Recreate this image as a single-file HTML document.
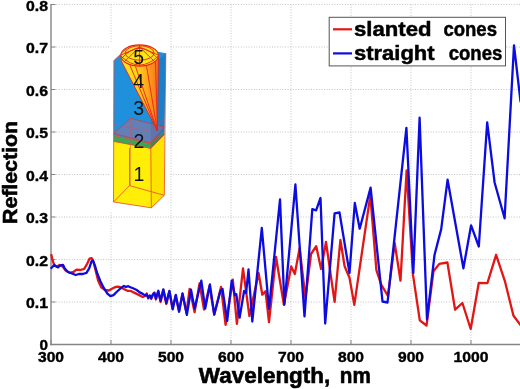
<!DOCTYPE html>
<html><head><meta charset="utf-8"><title>Reflection vs Wavelength</title>
<style>
html,body{margin:0;padding:0;background:#fff;}
svg{display:block;font-family:"Liberation Sans",sans-serif;}
.b{font-weight:bold;}
</style></head><body>
<svg width="520" height="389" viewBox="0 0 520 389">
<rect width="520" height="389" fill="#fff"/>
<g stroke="#c4c4c4" stroke-width="1" stroke-dasharray="1 1.6" fill="none">
<line x1="111.0" y1="4.5" x2="111.0" y2="344.5"/>
<line x1="171.0" y1="4.5" x2="171.0" y2="344.5"/>
<line x1="231.0" y1="4.5" x2="231.0" y2="344.5"/>
<line x1="291.0" y1="4.5" x2="291.0" y2="344.5"/>
<line x1="351.0" y1="4.5" x2="351.0" y2="344.5"/>
<line x1="411.0" y1="4.5" x2="411.0" y2="344.5"/>
<line x1="471.0" y1="4.5" x2="471.0" y2="344.5"/>
<line x1="51" y1="302.0" x2="520" y2="302.0"/>
<line x1="51" y1="259.5" x2="520" y2="259.5"/>
<line x1="51" y1="217.0" x2="520" y2="217.0"/>
<line x1="51" y1="174.5" x2="520" y2="174.5"/>
<line x1="51" y1="132.0" x2="520" y2="132.0"/>
<line x1="51" y1="89.5" x2="520" y2="89.5"/>
<line x1="51" y1="47.0" x2="520" y2="47.0"/>
<line x1="51" y1="4.5" x2="520" y2="4.5"/>
</g>
<!-- inset -->
<g id="inset">
<rect x="110" y="42" width="60" height="169" fill="#fff"/>
<!-- yellow base -->
<polygon points="113.6,141 150.8,148 164.3,134.5 164.3,195.3 151.3,207.8 113.5,202" fill="#ffee08"/>
<polygon points="150.8,148 164.3,134.5 164.3,195.3 151.3,207.8" fill="#fde400"/>
<!-- green layer -->
<polygon points="113.6,135.4 150.8,143.2 164.3,131.6 164.3,134.7 150.8,148.4 113.6,141.4" fill="#3aa657"/>
<polygon points="150.8,143.2 164.3,131.6 164.3,134.7 150.8,148.4" fill="#2f8f49"/>
<!-- blue block -->
<polygon points="113.9,60.6 129.1,46.2 165.8,53.2 164.3,131.8 150.8,143.4 113.6,135.6" fill="#1f90dc"/>
<polygon points="150.7,67.6 165.8,53.2 164.3,131.8 150.8,143.4" fill="#1b7fc9"/>
<!-- pink inner wireframe -->
<polygon points="113.6,133.5 130.5,118.3 164.3,127 150.8,143" fill="#e06070" fill-opacity="0.35" stroke="#e03030" stroke-width="0.7"/>
<g stroke="#d85060" stroke-width="0.6" fill="none" opacity="0.8">
<line x1="113.6" y1="124.5" x2="150.8" y2="131.5"/><line x1="150.8" y1="131.5" x2="164.3" y2="118.5"/>
<line x1="130.5" y1="118.3" x2="130.5" y2="186"/>
</g>
<!-- cone -->
<defs>
<linearGradient id="cg" x1="0" y1="0" x2="1" y2="0">
<stop offset="0" stop-color="#ffe81a"/><stop offset="0.45" stop-color="#ffd21a"/><stop offset="0.7" stop-color="#ffa81a"/><stop offset="1" stop-color="#f8701a"/>
</linearGradient>
</defs>
<polygon points="120.8,60 157.4,130.8 158.4,57" fill="url(#cg)"/>
<g stroke="#e8231c" stroke-width="0.9" fill="none">
<line x1="120.8" y1="60" x2="157.4" y2="130.8"/>
<line x1="130" y1="65.5" x2="157.4" y2="130.8"/>
<line x1="135.5" y1="66.5" x2="157.4" y2="130.8"/>
<line x1="146.5" y1="65.8" x2="157.4" y2="130.8"/>
<line x1="155.5" y1="61.5" x2="157.4" y2="130.8"/>
<line x1="158.4" y1="57" x2="157.4" y2="130.8"/>
</g>
<!-- dome -->
<ellipse cx="139.6" cy="55.5" rx="18.8" ry="10.6" fill="#ffe414" stroke="#e8231c" stroke-width="1.1"/>
<g stroke="#e8231c" stroke-width="0.9" fill="none">
<ellipse cx="139.6" cy="53" rx="14.5" ry="7.2"/>
<path d="M120.8,56 Q139.6,74 158.4,56"/>
<path d="M121.5,58.5 Q139.6,38 157.8,58.5"/>
<line x1="139.6" y1="45" x2="139.6" y2="66"/>
<line x1="139.6" y1="47" x2="124" y2="62"/>
<line x1="139.6" y1="47" x2="155" y2="62"/>
<line x1="139.6" y1="47" x2="121" y2="55"/>
<line x1="139.6" y1="47" x2="158.2" y2="55"/>
</g>
<!-- box wireframe -->
<g stroke="#e8452a" stroke-width="0.8" fill="none">
<polyline points="113.9,60.6 113.5,202 151.3,207.8 164.3,195.3 165.8,53.2"/>
<line x1="150.8" y1="143.4" x2="151.3" y2="207.8"/>
<polyline points="113.5,202 129.5,185.6 164.3,195.3"/>
<line x1="129.5" y1="148" x2="129.5" y2="185.6"/>
<polyline points="113.6,141.4 150.8,148.4 164.3,134.7"/>
<polyline points="113.6,135.6 150.8,143.4 164.3,131.8"/>
<line x1="113.9" y1="60.6" x2="129.1" y2="46.2"/>
</g>
<g font-size="19.5" fill="#111" text-anchor="middle">
<text x="138.6" y="64">5</text>
<text x="138.6" y="88">4</text>
<text x="138.6" y="115.2">3</text>
<text x="139" y="148.2">2</text>
<text x="139" y="180.8">1</text>
</g>
</g>
<!-- axes -->
<g stroke="#858585" stroke-width="1.4" fill="none">
<line x1="51" y1="4.0" x2="51" y2="345.2"/>
<line x1="50.3" y1="344.5" x2="520" y2="344.5"/>
</g>
<g stroke="#858585" stroke-width="1" fill="none">
<line x1="51.0" y1="344.5" x2="51.0" y2="340.0"/>
<line x1="111.0" y1="344.5" x2="111.0" y2="340.0"/>
<line x1="171.0" y1="344.5" x2="171.0" y2="340.0"/>
<line x1="231.0" y1="344.5" x2="231.0" y2="340.0"/>
<line x1="291.0" y1="344.5" x2="291.0" y2="340.0"/>
<line x1="351.0" y1="344.5" x2="351.0" y2="340.0"/>
<line x1="411.0" y1="344.5" x2="411.0" y2="340.0"/>
<line x1="471.0" y1="344.5" x2="471.0" y2="340.0"/>
<line x1="51" y1="344.5" x2="55.5" y2="344.5"/>
<line x1="51" y1="302.0" x2="55.5" y2="302.0"/>
<line x1="51" y1="259.5" x2="55.5" y2="259.5"/>
<line x1="51" y1="217.0" x2="55.5" y2="217.0"/>
<line x1="51" y1="174.5" x2="55.5" y2="174.5"/>
<line x1="51" y1="132.0" x2="55.5" y2="132.0"/>
<line x1="51" y1="89.5" x2="55.5" y2="89.5"/>
<line x1="51" y1="47.0" x2="55.5" y2="47.0"/>
<line x1="51" y1="4.5" x2="55.5" y2="4.5"/>
</g>
<!-- data -->
<polyline fill="none" stroke="#e31616" stroke-width="2.3" stroke-linejoin="round" stroke-linecap="round" points="51.4,255 52.6,260.4 54.2,265 56.5,266.6 59.6,265 62.6,266.6 65.7,270.4 69.6,272.8 73.4,272 76.5,269.7 80.4,270 84.2,268.9 87.3,263.5 89.6,258.6 91.6,258.1 93.5,262 95.8,271.2 98.1,280.5 101.2,287.4 105,290 108.9,290.5 112.8,288.2 115.8,286.9 118.2,286.7 121.3,287.7 124.3,289.3 127.4,290.8 130.5,290.8 133.6,292.4 136.7,293.9 139.8,295.4 142.8,297 145.1,296 146.7,293.5 148.2,298.5 149.8,296 151.3,299 152.9,294 154.4,292.5 155.9,299.5 158.3,291.5 160.6,302 163.3,290 166.3,304 169.4,291.5 172.5,308 175.6,296 179,311 182.5,294 186.5,313 189.6,288.8 194.6,312.2 199.5,283.4 204,309.5 209.5,286 214.3,314.6 221,286.9 225.6,324.9 232.8,279.7 236.9,323.9 243,268.4 249.4,316 258.6,273 262.3,294.7 265.5,291.2 269,322.2 276,257 283.9,304.8 291.2,266.5 294.8,274 299.6,248.2 305.5,298 311,254 316.2,246.1 321.1,269 326,242 334.6,301.8 340.4,240 344.6,266.2 349.5,277.8 354.3,304.9 370.3,195.3 376.4,270.1 381.2,284.6 388,296 394.7,243.1 400.5,280.7 406.6,170.5 413,274.9 419.8,320.3 426.5,325.5 433.5,271.2 439.3,263.9 447.4,262.5 455.1,309.7 462.4,303 470.7,329 478.8,282.8 487.4,283.1 496.1,254.8 504.8,280.8 513.4,315.5 520.5,325"/>
<polyline fill="none" stroke="#0c0ce0" stroke-width="2.3" stroke-linejoin="round" stroke-linecap="round" points="51.4,268.1 54.2,265 56.5,266.6 58,267.4 60.3,265.4 63.1,265 65,268.9 68,272 71.9,273.5 75.8,275 78.8,274 82.7,274 86.5,272.8 89.3,268.1 91.6,261.2 93,260.4 95,265.8 97.3,273.5 100.4,281.2 103.5,287.4 107.4,293.6 110.4,296.2 113.5,295.1 116.6,292 121.3,287.7 124,285.9 125.9,287 128.2,286.2 130.5,287.3 133.6,288.5 136.7,290 139.8,292.4 142.8,293.9 145.1,295.4 146.7,294.4 148.2,297.8 149.8,295.4 151.3,298.1 152.9,294.7 154.4,293.1 155.9,298.5 158.3,290.8 160.6,300.8 163.3,289.3 166.3,303.1 169.4,290.8 172.7,309.4 175.8,294.8 179.1,311.8 182.5,293.5 186.9,314.9 191,289.7 194.6,308.6 201.3,280.7 205.2,308.6 209.9,284.5 214.2,314.5 220.4,291 222.5,288.9 227.2,320.8 231.7,280.7 234.8,295.1 236.3,294.1 239.6,317.7 244.1,291 246.1,293 248.5,269.5 252.3,321.5 261.8,228 269,309 280,199.5 284.4,304.5 295.4,184.5 304.5,316.3 312.3,209.2 316.1,210.3 320.5,198 325.2,323.5 334.6,213.4 339.5,212.5 349.5,273 354.8,203 359.7,228.7 370.6,187.6 382.5,301.5 387.5,302.5 406.4,127.9 413.3,273 419.6,117.7 427,319.4 434.5,255 441.2,229.1 447.6,179.7 463.4,268.3 471.1,225.3 478.8,246.5 487.2,122.3 494.6,182.5 504.6,218.3 514,45.4 520.5,101.4"/>
<!-- legend -->
<rect x="329.2" y="17.3" width="176.3" height="48.6" fill="#fff" stroke="#555" stroke-width="1"/>
<line x1="333" y1="29.3" x2="352" y2="29.3" stroke="#e31616" stroke-width="2.2"/>
<line x1="333" y1="53.4" x2="352" y2="53.4" stroke="#0c0ce0" stroke-width="2.2"/>
<g class="b" font-size="21" fill="#000" stroke="#000" stroke-width="0.5">
<text x="354" y="35.8" textLength="77.5" lengthAdjust="spacingAndGlyphs">slanted</text>
<text x="443.4" y="35.8" textLength="53.6" lengthAdjust="spacingAndGlyphs">cones</text>
<text x="354" y="59.6" textLength="80.6" lengthAdjust="spacingAndGlyphs">straight</text>
<text x="448.7" y="59.6" textLength="53.6" lengthAdjust="spacingAndGlyphs">cones</text>
</g>
<!-- tick labels -->
<g class="b" font-size="14.5" fill="#000" stroke="#000" stroke-width="0.4">
<text x="51.0" y="362.1" text-anchor="middle" textLength="26" lengthAdjust="spacingAndGlyphs">300</text>
<text x="111.0" y="362.1" text-anchor="middle" textLength="26" lengthAdjust="spacingAndGlyphs">400</text>
<text x="171.0" y="362.1" text-anchor="middle" textLength="26" lengthAdjust="spacingAndGlyphs">500</text>
<text x="231.0" y="362.1" text-anchor="middle" textLength="26" lengthAdjust="spacingAndGlyphs">600</text>
<text x="291.0" y="362.1" text-anchor="middle" textLength="26" lengthAdjust="spacingAndGlyphs">700</text>
<text x="351.0" y="362.1" text-anchor="middle" textLength="26" lengthAdjust="spacingAndGlyphs">800</text>
<text x="411.0" y="362.1" text-anchor="middle" textLength="26" lengthAdjust="spacingAndGlyphs">900</text>
<text x="471.0" y="362.1" text-anchor="middle" textLength="35" lengthAdjust="spacingAndGlyphs">1000</text>
<text x="48" y="349.8" text-anchor="end" textLength="8.5" lengthAdjust="spacingAndGlyphs">0</text>
<text x="48" y="308.2" text-anchor="end" textLength="22" lengthAdjust="spacingAndGlyphs">0.1</text>
<text x="48" y="265.7" text-anchor="end" textLength="22" lengthAdjust="spacingAndGlyphs">0.2</text>
<text x="48" y="223.2" text-anchor="end" textLength="22" lengthAdjust="spacingAndGlyphs">0.3</text>
<text x="48" y="180.7" text-anchor="end" textLength="22" lengthAdjust="spacingAndGlyphs">0.4</text>
<text x="48" y="138.2" text-anchor="end" textLength="22" lengthAdjust="spacingAndGlyphs">0.5</text>
<text x="48" y="95.7" text-anchor="end" textLength="22" lengthAdjust="spacingAndGlyphs">0.6</text>
<text x="48" y="53.2" text-anchor="end" textLength="22" lengthAdjust="spacingAndGlyphs">0.7</text>
<text x="48" y="10.7" text-anchor="end" textLength="22" lengthAdjust="spacingAndGlyphs">0.8</text>
</g>
<!-- axis titles -->
<g class="b" font-size="22" fill="#000" stroke="#000" stroke-width="0.6"><text x="198.8" y="382.5" textLength="131.5" lengthAdjust="spacingAndGlyphs">Wavelength,</text><text x="339.8" y="382.5" textLength="31" lengthAdjust="spacingAndGlyphs">nm</text></g>
<text class="b" font-size="21" transform="translate(17,224) rotate(-90)" textLength="103" lengthAdjust="spacingAndGlyphs" fill="#000" stroke="#000" stroke-width="0.6">Reflection</text>
</svg>
</body></html>
